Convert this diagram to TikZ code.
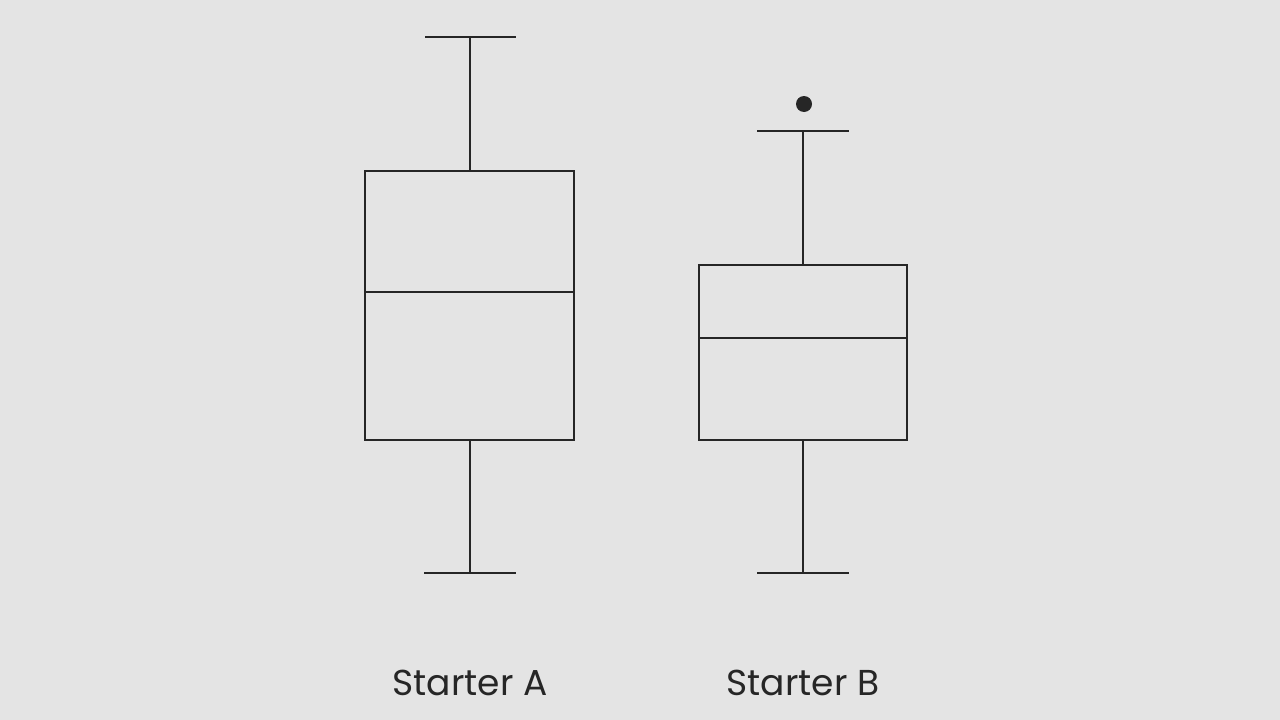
\documentclass[tikz,border=0pt]{standalone}
\usepackage{fontspec}
\setmainfont{Poppins}
\begin{document}
\begin{tikzpicture}[x=1pt,y=-1pt,line width=2.5pt,draw=black!85,
  lbl/.style={font=\fontsize{36}{40}\selectfont,text=black!85}]
\fill[fill={rgb,255:red,228;green,228;blue,228}] (0,0) rectangle (1280,720);
\useasboundingbox (0,0) rectangle (1280,720);
% Starter A
\draw (365,171) rectangle (574,440);
\draw (365,292) -- (574,292);
\draw (470,171) -- (470,37);
\draw (425,37) -- (516,37);
\draw (470,440) -- (470,573);
\draw (424,573) -- (516,573);
% Starter B
\draw (699,265) rectangle (907,440);
\draw (699,338) -- (907,338);
\draw (803,265) -- (803,131);
\draw (757,131) -- (849,131);
\draw (803,440) -- (803,573);
\draw (757,573) -- (849,573);
\fill[black!85] (804,104) circle (8);
\node[lbl] (la) at (470,683) {Starter A};
\node[lbl] (lb) at (803,683) {Starter B};
\end{tikzpicture}
\end{document}
